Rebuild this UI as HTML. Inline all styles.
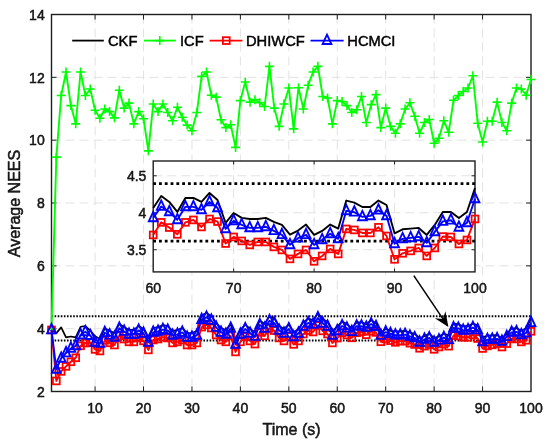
<!DOCTYPE html>
<html><head><meta charset="utf-8"><title>Average NEES</title>
<style>html,body{margin:0;padding:0;background:#fff}svg{display:block}</style></head>
<body><svg width="550" height="446" viewBox="0 0 550 446">
<rect x="0" y="0" width="550" height="446" fill="#fff"/>
<path d="M95.09 14.5V391.5M143.53 14.5V391.5M191.96 14.5V391.5M240.39 14.5V391.5M288.83 14.5V391.5M337.26 14.5V391.5M385.7 14.5V391.5M434.13 14.5V391.5M482.57 14.5V391.5M51.5 328.67H531M51.5 265.83H531M51.5 203H531M51.5 140.17H531M51.5 77.33H531" stroke="#e2e2e2" stroke-width="1" stroke-dasharray="9 5" fill="none"/>
<path d="M95.09 391.5v-5M95.09 14.5v5M143.53 391.5v-5M143.53 14.5v5M191.96 391.5v-5M191.96 14.5v5M240.39 391.5v-5M240.39 14.5v5M288.83 391.5v-5M288.83 14.5v5M337.26 391.5v-5M337.26 14.5v5M385.7 391.5v-5M385.7 14.5v5M434.13 391.5v-5M434.13 14.5v5M482.57 391.5v-5M482.57 14.5v5M51.5 328.67h5M531 328.67h-5M51.5 265.83h5M531 265.83h-5M51.5 203h5M531 203h-5M51.5 140.17h5M531 140.17h-5M51.5 77.33h5M531 77.33h-5" stroke="#1e1e1e" stroke-width="1" fill="none"/>
<rect x="51.5" y="14.5" width="479.5" height="377" fill="none" stroke="#1e1e1e" stroke-width="1.4"/>
<path d="M51.5 316.26H531" stroke="#000" stroke-width="2" stroke-dasharray="1.6 1.5" fill="none"/>
<path d="M51.5 340.6H531" stroke="#000" stroke-width="2" stroke-dasharray="1.6 1.5" fill="none"/>
<polyline fill="none" stroke="#000000" stroke-width="1.7" stroke-linejoin="round"  points="51.5,329.92 56.34,333.13 61.19,327.41 66.03,337.34 70.87,336.52 75.72,337.34 80.56,326.78 85.4,326.15 90.25,330.55 95.09,336.3 99.93,339.03 104.78,328.35 109.62,330.87 114.46,333.06 119.31,323.95 124.15,327.1 128.99,329.92 133.84,329.92 138.68,326 143.53,328.98 148.37,337.97 153.21,328.04 158.06,327.1 162.9,325.21 167.74,326 172.59,330.99 177.43,329.92 182.27,328.04 187.12,333.06 191.96,333.06 196.8,330.99 201.65,315.16 206.49,312.96 211.33,316.1 216.18,323.01 221.02,328.04 225.86,329.92 230.71,323.95 235.55,339.98 240.39,329.92 245.24,324.58 250.08,328.98 254.92,332.12 259.77,320.5 264.61,323.95 269.45,316.41 274.3,318.61 279.14,326 283.98,328.98 288.83,324.58 293.67,332.44 298.52,328.98 303.36,322.07 308.2,318.61 313.05,320.03 317.89,313.59 322.73,318.93 327.58,322.07 332.42,330.99 337.26,326.62 342.11,321.54 346.95,324.08 351.79,328.32 356.64,322.38 361.48,322.38 366.32,324.08 371.17,320.25 376.01,323.23 380.85,333 385.7,328.76 390.54,330.87 395.38,331.31 400.23,331.31 405.07,330.87 409.91,332.56 414.76,333.85 419.6,337.93 424.44,336.24 429.29,333.69 434.13,338.09 438.97,336.4 443.82,333.69 448.66,335.39 453.51,323.48 458.35,324.33 463.19,326.22 468.04,326.22 472.88,323.48 477.72,325.37 482.57,337.4 487.41,335.7 492.25,335.39 497.1,335.11 501.94,338.09 506.78,333.85 511.63,328.32 516.47,328.32 521.31,330.87 526.16,328.32 531,318.14"/>
<polyline fill="none" stroke="#00ff00" stroke-width="1.9" stroke-linejoin="round"  points="51.5,328.67 56.34,157.13 61.19,95.56 66.03,71.99 70.87,105.61 75.72,123.83 80.56,71.99 85.4,95.56 90.25,88.96 95.09,110.32 99.93,118.18 104.78,109.06 109.62,111.58 114.46,117.86 119.31,90.21 124.15,108.12 128.99,103.1 133.84,123.83 138.68,111.58 143.53,118.8 148.37,150.85 153.21,104.04 158.06,111.58 162.9,104.04 167.74,112.52 172.59,120.69 177.43,107.18 182.27,117.23 187.12,125.09 191.96,130.74 196.8,112.52 201.65,76.39 206.49,71.99 211.33,95.24 216.18,97.13 221.02,119.75 225.86,127.6 230.71,124.77 235.55,147.39 240.39,100.58 245.24,82.05 250.08,102.15 254.92,99.64 259.77,102.78 264.61,106.55 269.45,66.34 274.3,108.12 279.14,126.34 283.98,104.04 288.83,88.02 293.67,128.86 298.52,87.7 303.36,109.06 308.2,85.19 313.05,71.99 317.89,66.34 322.73,96.5 327.58,98.07 332.42,123.83 337.26,100.58 342.11,101.52 346.95,105.61 351.79,112.52 356.64,109.69 361.48,96.5 366.32,122.57 371.17,104.67 376.01,94.61 380.85,127.6 385.7,108.12 390.54,126.34 395.38,133.25 400.23,123.83 405.07,109.06 409.91,102.78 414.76,116.29 419.6,133.25 424.44,122.57 429.29,119.43 434.13,143.31 438.97,138.28 443.82,120.69 448.66,132.31 453.51,100.27 458.35,95.56 463.19,91.47 468.04,88.02 472.88,75.76 477.72,123.2 482.57,142.05 487.41,121.32 492.25,121.32 497.1,102.15 501.94,122.57 506.78,130.74 511.63,103.1 516.47,88.02 521.31,88.96 526.16,95.24 531,79.53"/>
<path d="M47 328.67H56M51.5 324.17V333.17" stroke="#00ff00" stroke-width="1.6" fill="none"/>
<path d="M51.84 157.13H60.84M56.34 152.63V161.63" stroke="#00ff00" stroke-width="1.6" fill="none"/>
<path d="M56.69 95.56H65.69M61.19 91.06V100.06" stroke="#00ff00" stroke-width="1.6" fill="none"/>
<path d="M61.53 71.99H70.53M66.03 67.49V76.49" stroke="#00ff00" stroke-width="1.6" fill="none"/>
<path d="M66.37 105.61H75.37M70.87 101.11V110.11" stroke="#00ff00" stroke-width="1.6" fill="none"/>
<path d="M71.22 123.83H80.22M75.72 119.33V128.33" stroke="#00ff00" stroke-width="1.6" fill="none"/>
<path d="M76.06 71.99H85.06M80.56 67.49V76.49" stroke="#00ff00" stroke-width="1.6" fill="none"/>
<path d="M80.9 95.56H89.9M85.4 91.06V100.06" stroke="#00ff00" stroke-width="1.6" fill="none"/>
<path d="M85.75 88.96H94.75M90.25 84.46V93.46" stroke="#00ff00" stroke-width="1.6" fill="none"/>
<path d="M90.59 110.32H99.59M95.09 105.82V114.82" stroke="#00ff00" stroke-width="1.6" fill="none"/>
<path d="M95.43 118.18H104.43M99.93 113.68V122.68" stroke="#00ff00" stroke-width="1.6" fill="none"/>
<path d="M100.28 109.06H109.28M104.78 104.56V113.56" stroke="#00ff00" stroke-width="1.6" fill="none"/>
<path d="M105.12 111.58H114.12M109.62 107.08V116.08" stroke="#00ff00" stroke-width="1.6" fill="none"/>
<path d="M109.96 117.86H118.96M114.46 113.36V122.36" stroke="#00ff00" stroke-width="1.6" fill="none"/>
<path d="M114.81 90.21H123.81M119.31 85.71V94.71" stroke="#00ff00" stroke-width="1.6" fill="none"/>
<path d="M119.65 108.12H128.65M124.15 103.62V112.62" stroke="#00ff00" stroke-width="1.6" fill="none"/>
<path d="M124.49 103.1H133.49M128.99 98.6V107.6" stroke="#00ff00" stroke-width="1.6" fill="none"/>
<path d="M129.34 123.83H138.34M133.84 119.33V128.33" stroke="#00ff00" stroke-width="1.6" fill="none"/>
<path d="M134.18 111.58H143.18M138.68 107.08V116.08" stroke="#00ff00" stroke-width="1.6" fill="none"/>
<path d="M139.03 118.8H148.03M143.53 114.3V123.3" stroke="#00ff00" stroke-width="1.6" fill="none"/>
<path d="M143.87 150.85H152.87M148.37 146.35V155.35" stroke="#00ff00" stroke-width="1.6" fill="none"/>
<path d="M148.71 104.04H157.71M153.21 99.54V108.54" stroke="#00ff00" stroke-width="1.6" fill="none"/>
<path d="M153.56 111.58H162.56M158.06 107.08V116.08" stroke="#00ff00" stroke-width="1.6" fill="none"/>
<path d="M158.4 104.04H167.4M162.9 99.54V108.54" stroke="#00ff00" stroke-width="1.6" fill="none"/>
<path d="M163.24 112.52H172.24M167.74 108.02V117.02" stroke="#00ff00" stroke-width="1.6" fill="none"/>
<path d="M168.09 120.69H177.09M172.59 116.19V125.19" stroke="#00ff00" stroke-width="1.6" fill="none"/>
<path d="M172.93 107.18H181.93M177.43 102.68V111.68" stroke="#00ff00" stroke-width="1.6" fill="none"/>
<path d="M177.77 117.23H186.77M182.27 112.73V121.73" stroke="#00ff00" stroke-width="1.6" fill="none"/>
<path d="M182.62 125.09H191.62M187.12 120.59V129.59" stroke="#00ff00" stroke-width="1.6" fill="none"/>
<path d="M187.46 130.74H196.46M191.96 126.24V135.24" stroke="#00ff00" stroke-width="1.6" fill="none"/>
<path d="M192.3 112.52H201.3M196.8 108.02V117.02" stroke="#00ff00" stroke-width="1.6" fill="none"/>
<path d="M197.15 76.39H206.15M201.65 71.89V80.89" stroke="#00ff00" stroke-width="1.6" fill="none"/>
<path d="M201.99 71.99H210.99M206.49 67.49V76.49" stroke="#00ff00" stroke-width="1.6" fill="none"/>
<path d="M206.83 95.24H215.83M211.33 90.74V99.74" stroke="#00ff00" stroke-width="1.6" fill="none"/>
<path d="M211.68 97.13H220.68M216.18 92.63V101.63" stroke="#00ff00" stroke-width="1.6" fill="none"/>
<path d="M216.52 119.75H225.52M221.02 115.25V124.25" stroke="#00ff00" stroke-width="1.6" fill="none"/>
<path d="M221.36 127.6H230.36M225.86 123.1V132.1" stroke="#00ff00" stroke-width="1.6" fill="none"/>
<path d="M226.21 124.77H235.21M230.71 120.27V129.27" stroke="#00ff00" stroke-width="1.6" fill="none"/>
<path d="M231.05 147.39H240.05M235.55 142.89V151.89" stroke="#00ff00" stroke-width="1.6" fill="none"/>
<path d="M235.89 100.58H244.89M240.39 96.08V105.08" stroke="#00ff00" stroke-width="1.6" fill="none"/>
<path d="M240.74 82.05H249.74M245.24 77.55V86.55" stroke="#00ff00" stroke-width="1.6" fill="none"/>
<path d="M245.58 102.15H254.58M250.08 97.65V106.65" stroke="#00ff00" stroke-width="1.6" fill="none"/>
<path d="M250.42 99.64H259.42M254.92 95.14V104.14" stroke="#00ff00" stroke-width="1.6" fill="none"/>
<path d="M255.27 102.78H264.27M259.77 98.28V107.28" stroke="#00ff00" stroke-width="1.6" fill="none"/>
<path d="M260.11 106.55H269.11M264.61 102.05V111.05" stroke="#00ff00" stroke-width="1.6" fill="none"/>
<path d="M264.95 66.34H273.95M269.45 61.84V70.84" stroke="#00ff00" stroke-width="1.6" fill="none"/>
<path d="M269.8 108.12H278.8M274.3 103.62V112.62" stroke="#00ff00" stroke-width="1.6" fill="none"/>
<path d="M274.64 126.34H283.64M279.14 121.84V130.84" stroke="#00ff00" stroke-width="1.6" fill="none"/>
<path d="M279.48 104.04H288.48M283.98 99.54V108.54" stroke="#00ff00" stroke-width="1.6" fill="none"/>
<path d="M284.33 88.02H293.33M288.83 83.52V92.52" stroke="#00ff00" stroke-width="1.6" fill="none"/>
<path d="M289.17 128.86H298.17M293.67 124.36V133.36" stroke="#00ff00" stroke-width="1.6" fill="none"/>
<path d="M294.02 87.7H303.02M298.52 83.2V92.2" stroke="#00ff00" stroke-width="1.6" fill="none"/>
<path d="M298.86 109.06H307.86M303.36 104.56V113.56" stroke="#00ff00" stroke-width="1.6" fill="none"/>
<path d="M303.7 85.19H312.7M308.2 80.69V89.69" stroke="#00ff00" stroke-width="1.6" fill="none"/>
<path d="M308.55 71.99H317.55M313.05 67.49V76.49" stroke="#00ff00" stroke-width="1.6" fill="none"/>
<path d="M313.39 66.34H322.39M317.89 61.84V70.84" stroke="#00ff00" stroke-width="1.6" fill="none"/>
<path d="M318.23 96.5H327.23M322.73 92V101" stroke="#00ff00" stroke-width="1.6" fill="none"/>
<path d="M323.08 98.07H332.08M327.58 93.57V102.57" stroke="#00ff00" stroke-width="1.6" fill="none"/>
<path d="M327.92 123.83H336.92M332.42 119.33V128.33" stroke="#00ff00" stroke-width="1.6" fill="none"/>
<path d="M332.76 100.58H341.76M337.26 96.08V105.08" stroke="#00ff00" stroke-width="1.6" fill="none"/>
<path d="M337.61 101.52H346.61M342.11 97.02V106.02" stroke="#00ff00" stroke-width="1.6" fill="none"/>
<path d="M342.45 105.61H351.45M346.95 101.11V110.11" stroke="#00ff00" stroke-width="1.6" fill="none"/>
<path d="M347.29 112.52H356.29M351.79 108.02V117.02" stroke="#00ff00" stroke-width="1.6" fill="none"/>
<path d="M352.14 109.69H361.14M356.64 105.19V114.19" stroke="#00ff00" stroke-width="1.6" fill="none"/>
<path d="M356.98 96.5H365.98M361.48 92V101" stroke="#00ff00" stroke-width="1.6" fill="none"/>
<path d="M361.82 122.57H370.82M366.32 118.07V127.07" stroke="#00ff00" stroke-width="1.6" fill="none"/>
<path d="M366.67 104.67H375.67M371.17 100.17V109.17" stroke="#00ff00" stroke-width="1.6" fill="none"/>
<path d="M371.51 94.61H380.51M376.01 90.11V99.11" stroke="#00ff00" stroke-width="1.6" fill="none"/>
<path d="M376.35 127.6H385.35M380.85 123.1V132.1" stroke="#00ff00" stroke-width="1.6" fill="none"/>
<path d="M381.2 108.12H390.2M385.7 103.62V112.62" stroke="#00ff00" stroke-width="1.6" fill="none"/>
<path d="M386.04 126.34H395.04M390.54 121.84V130.84" stroke="#00ff00" stroke-width="1.6" fill="none"/>
<path d="M390.88 133.25H399.88M395.38 128.75V137.75" stroke="#00ff00" stroke-width="1.6" fill="none"/>
<path d="M395.73 123.83H404.73M400.23 119.33V128.33" stroke="#00ff00" stroke-width="1.6" fill="none"/>
<path d="M400.57 109.06H409.57M405.07 104.56V113.56" stroke="#00ff00" stroke-width="1.6" fill="none"/>
<path d="M405.41 102.78H414.41M409.91 98.28V107.28" stroke="#00ff00" stroke-width="1.6" fill="none"/>
<path d="M410.26 116.29H419.26M414.76 111.79V120.79" stroke="#00ff00" stroke-width="1.6" fill="none"/>
<path d="M415.1 133.25H424.1M419.6 128.75V137.75" stroke="#00ff00" stroke-width="1.6" fill="none"/>
<path d="M419.94 122.57H428.94M424.44 118.07V127.07" stroke="#00ff00" stroke-width="1.6" fill="none"/>
<path d="M424.79 119.43H433.79M429.29 114.93V123.93" stroke="#00ff00" stroke-width="1.6" fill="none"/>
<path d="M429.63 143.31H438.63M434.13 138.81V147.81" stroke="#00ff00" stroke-width="1.6" fill="none"/>
<path d="M434.47 138.28H443.47M438.97 133.78V142.78" stroke="#00ff00" stroke-width="1.6" fill="none"/>
<path d="M439.32 120.69H448.32M443.82 116.19V125.19" stroke="#00ff00" stroke-width="1.6" fill="none"/>
<path d="M444.16 132.31H453.16M448.66 127.81V136.81" stroke="#00ff00" stroke-width="1.6" fill="none"/>
<path d="M449.01 100.27H458.01M453.51 95.77V104.77" stroke="#00ff00" stroke-width="1.6" fill="none"/>
<path d="M453.85 95.56H462.85M458.35 91.06V100.06" stroke="#00ff00" stroke-width="1.6" fill="none"/>
<path d="M458.69 91.47H467.69M463.19 86.97V95.97" stroke="#00ff00" stroke-width="1.6" fill="none"/>
<path d="M463.54 88.02H472.54M468.04 83.52V92.52" stroke="#00ff00" stroke-width="1.6" fill="none"/>
<path d="M468.38 75.76H477.38M472.88 71.26V80.26" stroke="#00ff00" stroke-width="1.6" fill="none"/>
<path d="M473.22 123.2H482.22M477.72 118.7V127.7" stroke="#00ff00" stroke-width="1.6" fill="none"/>
<path d="M478.07 142.05H487.07M482.57 137.55V146.55" stroke="#00ff00" stroke-width="1.6" fill="none"/>
<path d="M482.91 121.32H491.91M487.41 116.82V125.82" stroke="#00ff00" stroke-width="1.6" fill="none"/>
<path d="M487.75 121.32H496.75M492.25 116.82V125.82" stroke="#00ff00" stroke-width="1.6" fill="none"/>
<path d="M492.6 102.15H501.6M497.1 97.65V106.65" stroke="#00ff00" stroke-width="1.6" fill="none"/>
<path d="M497.44 122.57H506.44M501.94 118.07V127.07" stroke="#00ff00" stroke-width="1.6" fill="none"/>
<path d="M502.28 130.74H511.28M506.78 126.24V135.24" stroke="#00ff00" stroke-width="1.6" fill="none"/>
<path d="M507.13 103.1H516.13M511.63 98.6V107.6" stroke="#00ff00" stroke-width="1.6" fill="none"/>
<path d="M511.97 88.02H520.97M516.47 83.52V92.52" stroke="#00ff00" stroke-width="1.6" fill="none"/>
<path d="M516.81 88.96H525.81M521.31 84.46V93.46" stroke="#00ff00" stroke-width="1.6" fill="none"/>
<path d="M521.66 95.24H530.66M526.16 90.74V99.74" stroke="#00ff00" stroke-width="1.6" fill="none"/>
<path d="M526.5 79.53H535.5M531 75.03V84.03" stroke="#00ff00" stroke-width="1.6" fill="none"/>
<polyline fill="none" stroke="#ff0000" stroke-width="1.9" stroke-linejoin="round"  points="51.5,329.92 56.34,380.94 61.19,371.39 66.03,366.37 70.87,361.78 75.72,357.79 80.56,345.82 85.4,343.02 90.25,342.49 95.09,349.4 99.93,350.97 104.78,340.29 109.62,342.8 114.46,345 119.31,335.89 124.15,339.03 128.99,341.86 133.84,341.86 138.68,337.93 143.53,340.92 148.37,349.9 153.21,339.98 158.06,339.03 162.9,337.15 167.74,337.93 172.59,342.93 177.43,341.86 182.27,339.98 187.12,345 191.96,345 196.8,342.93 201.65,327.1 206.49,324.9 211.33,328.04 216.18,334.95 221.02,339.98 225.86,341.86 230.71,335.89 235.55,351.92 240.39,341.86 245.24,336.52 250.08,340.92 254.92,344.06 259.77,332.44 264.61,335.89 269.45,328.35 274.3,330.55 279.14,337.93 283.98,340.92 288.83,336.52 293.67,344.38 298.52,340.92 303.36,334.01 308.2,330.55 313.05,331.97 317.89,325.53 322.73,330.87 327.58,334.01 332.42,342.93 337.26,338.09 342.11,332.75 346.95,334.95 351.79,337.84 356.64,332.75 361.48,331.71 366.32,334.7 371.17,331.31 376.01,332.41 380.85,341.74 385.7,338.94 390.54,340.64 395.38,342.33 400.23,341.08 405.07,341.08 409.91,343.18 414.76,344.47 419.6,348.27 424.44,346.17 429.29,344.47 434.13,349.31 438.97,347.01 443.82,344.03 448.66,346.17 453.51,335.55 458.35,335.96 463.19,337.24 468.04,337.24 472.88,334.86 477.72,338.53 482.57,348.46 487.41,345.91 492.25,344.88 497.1,343.62 501.94,347.01 506.78,343.62 511.63,338.78 516.47,338.94 521.31,341.92 526.16,340.23 531,331.31"/>
<rect x="48.1" y="326.52" width="6.8" height="6.8" stroke="#ff0000" stroke-width="1.8" fill="none"/>
<rect x="52.94" y="377.54" width="6.8" height="6.8" stroke="#ff0000" stroke-width="1.8" fill="none"/>
<rect x="57.79" y="367.99" width="6.8" height="6.8" stroke="#ff0000" stroke-width="1.8" fill="none"/>
<rect x="62.63" y="362.97" width="6.8" height="6.8" stroke="#ff0000" stroke-width="1.8" fill="none"/>
<rect x="67.47" y="358.38" width="6.8" height="6.8" stroke="#ff0000" stroke-width="1.8" fill="none"/>
<rect x="72.32" y="354.39" width="6.8" height="6.8" stroke="#ff0000" stroke-width="1.8" fill="none"/>
<rect x="77.16" y="342.42" width="6.8" height="6.8" stroke="#ff0000" stroke-width="1.8" fill="none"/>
<rect x="82" y="339.62" width="6.8" height="6.8" stroke="#ff0000" stroke-width="1.8" fill="none"/>
<rect x="86.85" y="339.09" width="6.8" height="6.8" stroke="#ff0000" stroke-width="1.8" fill="none"/>
<rect x="91.69" y="346" width="6.8" height="6.8" stroke="#ff0000" stroke-width="1.8" fill="none"/>
<rect x="96.53" y="347.57" width="6.8" height="6.8" stroke="#ff0000" stroke-width="1.8" fill="none"/>
<rect x="101.38" y="336.89" width="6.8" height="6.8" stroke="#ff0000" stroke-width="1.8" fill="none"/>
<rect x="106.22" y="339.4" width="6.8" height="6.8" stroke="#ff0000" stroke-width="1.8" fill="none"/>
<rect x="111.06" y="341.6" width="6.8" height="6.8" stroke="#ff0000" stroke-width="1.8" fill="none"/>
<rect x="115.91" y="332.49" width="6.8" height="6.8" stroke="#ff0000" stroke-width="1.8" fill="none"/>
<rect x="120.75" y="335.63" width="6.8" height="6.8" stroke="#ff0000" stroke-width="1.8" fill="none"/>
<rect x="125.59" y="338.46" width="6.8" height="6.8" stroke="#ff0000" stroke-width="1.8" fill="none"/>
<rect x="130.44" y="338.46" width="6.8" height="6.8" stroke="#ff0000" stroke-width="1.8" fill="none"/>
<rect x="135.28" y="334.53" width="6.8" height="6.8" stroke="#ff0000" stroke-width="1.8" fill="none"/>
<rect x="140.13" y="337.52" width="6.8" height="6.8" stroke="#ff0000" stroke-width="1.8" fill="none"/>
<rect x="144.97" y="346.5" width="6.8" height="6.8" stroke="#ff0000" stroke-width="1.8" fill="none"/>
<rect x="149.81" y="336.58" width="6.8" height="6.8" stroke="#ff0000" stroke-width="1.8" fill="none"/>
<rect x="154.66" y="335.63" width="6.8" height="6.8" stroke="#ff0000" stroke-width="1.8" fill="none"/>
<rect x="159.5" y="333.75" width="6.8" height="6.8" stroke="#ff0000" stroke-width="1.8" fill="none"/>
<rect x="164.34" y="334.53" width="6.8" height="6.8" stroke="#ff0000" stroke-width="1.8" fill="none"/>
<rect x="169.19" y="339.53" width="6.8" height="6.8" stroke="#ff0000" stroke-width="1.8" fill="none"/>
<rect x="174.03" y="338.46" width="6.8" height="6.8" stroke="#ff0000" stroke-width="1.8" fill="none"/>
<rect x="178.87" y="336.58" width="6.8" height="6.8" stroke="#ff0000" stroke-width="1.8" fill="none"/>
<rect x="183.72" y="341.6" width="6.8" height="6.8" stroke="#ff0000" stroke-width="1.8" fill="none"/>
<rect x="188.56" y="341.6" width="6.8" height="6.8" stroke="#ff0000" stroke-width="1.8" fill="none"/>
<rect x="193.4" y="339.53" width="6.8" height="6.8" stroke="#ff0000" stroke-width="1.8" fill="none"/>
<rect x="198.25" y="323.7" width="6.8" height="6.8" stroke="#ff0000" stroke-width="1.8" fill="none"/>
<rect x="203.09" y="321.5" width="6.8" height="6.8" stroke="#ff0000" stroke-width="1.8" fill="none"/>
<rect x="207.93" y="324.64" width="6.8" height="6.8" stroke="#ff0000" stroke-width="1.8" fill="none"/>
<rect x="212.78" y="331.55" width="6.8" height="6.8" stroke="#ff0000" stroke-width="1.8" fill="none"/>
<rect x="217.62" y="336.58" width="6.8" height="6.8" stroke="#ff0000" stroke-width="1.8" fill="none"/>
<rect x="222.46" y="338.46" width="6.8" height="6.8" stroke="#ff0000" stroke-width="1.8" fill="none"/>
<rect x="227.31" y="332.49" width="6.8" height="6.8" stroke="#ff0000" stroke-width="1.8" fill="none"/>
<rect x="232.15" y="348.52" width="6.8" height="6.8" stroke="#ff0000" stroke-width="1.8" fill="none"/>
<rect x="236.99" y="338.46" width="6.8" height="6.8" stroke="#ff0000" stroke-width="1.8" fill="none"/>
<rect x="241.84" y="333.12" width="6.8" height="6.8" stroke="#ff0000" stroke-width="1.8" fill="none"/>
<rect x="246.68" y="337.52" width="6.8" height="6.8" stroke="#ff0000" stroke-width="1.8" fill="none"/>
<rect x="251.52" y="340.66" width="6.8" height="6.8" stroke="#ff0000" stroke-width="1.8" fill="none"/>
<rect x="256.37" y="329.04" width="6.8" height="6.8" stroke="#ff0000" stroke-width="1.8" fill="none"/>
<rect x="261.21" y="332.49" width="6.8" height="6.8" stroke="#ff0000" stroke-width="1.8" fill="none"/>
<rect x="266.05" y="324.95" width="6.8" height="6.8" stroke="#ff0000" stroke-width="1.8" fill="none"/>
<rect x="270.9" y="327.15" width="6.8" height="6.8" stroke="#ff0000" stroke-width="1.8" fill="none"/>
<rect x="275.74" y="334.53" width="6.8" height="6.8" stroke="#ff0000" stroke-width="1.8" fill="none"/>
<rect x="280.58" y="337.52" width="6.8" height="6.8" stroke="#ff0000" stroke-width="1.8" fill="none"/>
<rect x="285.43" y="333.12" width="6.8" height="6.8" stroke="#ff0000" stroke-width="1.8" fill="none"/>
<rect x="290.27" y="340.98" width="6.8" height="6.8" stroke="#ff0000" stroke-width="1.8" fill="none"/>
<rect x="295.12" y="337.52" width="6.8" height="6.8" stroke="#ff0000" stroke-width="1.8" fill="none"/>
<rect x="299.96" y="330.61" width="6.8" height="6.8" stroke="#ff0000" stroke-width="1.8" fill="none"/>
<rect x="304.8" y="327.15" width="6.8" height="6.8" stroke="#ff0000" stroke-width="1.8" fill="none"/>
<rect x="309.65" y="328.57" width="6.8" height="6.8" stroke="#ff0000" stroke-width="1.8" fill="none"/>
<rect x="314.49" y="322.13" width="6.8" height="6.8" stroke="#ff0000" stroke-width="1.8" fill="none"/>
<rect x="319.33" y="327.47" width="6.8" height="6.8" stroke="#ff0000" stroke-width="1.8" fill="none"/>
<rect x="324.18" y="330.61" width="6.8" height="6.8" stroke="#ff0000" stroke-width="1.8" fill="none"/>
<rect x="329.02" y="339.53" width="6.8" height="6.8" stroke="#ff0000" stroke-width="1.8" fill="none"/>
<rect x="333.86" y="334.69" width="6.8" height="6.8" stroke="#ff0000" stroke-width="1.8" fill="none"/>
<rect x="338.71" y="329.35" width="6.8" height="6.8" stroke="#ff0000" stroke-width="1.8" fill="none"/>
<rect x="343.55" y="331.55" width="6.8" height="6.8" stroke="#ff0000" stroke-width="1.8" fill="none"/>
<rect x="348.39" y="334.44" width="6.8" height="6.8" stroke="#ff0000" stroke-width="1.8" fill="none"/>
<rect x="353.24" y="329.35" width="6.8" height="6.8" stroke="#ff0000" stroke-width="1.8" fill="none"/>
<rect x="358.08" y="328.31" width="6.8" height="6.8" stroke="#ff0000" stroke-width="1.8" fill="none"/>
<rect x="362.92" y="331.3" width="6.8" height="6.8" stroke="#ff0000" stroke-width="1.8" fill="none"/>
<rect x="367.77" y="327.91" width="6.8" height="6.8" stroke="#ff0000" stroke-width="1.8" fill="none"/>
<rect x="372.61" y="329.01" width="6.8" height="6.8" stroke="#ff0000" stroke-width="1.8" fill="none"/>
<rect x="377.45" y="338.34" width="6.8" height="6.8" stroke="#ff0000" stroke-width="1.8" fill="none"/>
<rect x="382.3" y="335.54" width="6.8" height="6.8" stroke="#ff0000" stroke-width="1.8" fill="none"/>
<rect x="387.14" y="337.24" width="6.8" height="6.8" stroke="#ff0000" stroke-width="1.8" fill="none"/>
<rect x="391.98" y="338.93" width="6.8" height="6.8" stroke="#ff0000" stroke-width="1.8" fill="none"/>
<rect x="396.83" y="337.68" width="6.8" height="6.8" stroke="#ff0000" stroke-width="1.8" fill="none"/>
<rect x="401.67" y="337.68" width="6.8" height="6.8" stroke="#ff0000" stroke-width="1.8" fill="none"/>
<rect x="406.51" y="339.78" width="6.8" height="6.8" stroke="#ff0000" stroke-width="1.8" fill="none"/>
<rect x="411.36" y="341.07" width="6.8" height="6.8" stroke="#ff0000" stroke-width="1.8" fill="none"/>
<rect x="416.2" y="344.87" width="6.8" height="6.8" stroke="#ff0000" stroke-width="1.8" fill="none"/>
<rect x="421.04" y="342.77" width="6.8" height="6.8" stroke="#ff0000" stroke-width="1.8" fill="none"/>
<rect x="425.89" y="341.07" width="6.8" height="6.8" stroke="#ff0000" stroke-width="1.8" fill="none"/>
<rect x="430.73" y="345.91" width="6.8" height="6.8" stroke="#ff0000" stroke-width="1.8" fill="none"/>
<rect x="435.57" y="343.61" width="6.8" height="6.8" stroke="#ff0000" stroke-width="1.8" fill="none"/>
<rect x="440.42" y="340.63" width="6.8" height="6.8" stroke="#ff0000" stroke-width="1.8" fill="none"/>
<rect x="445.26" y="342.77" width="6.8" height="6.8" stroke="#ff0000" stroke-width="1.8" fill="none"/>
<rect x="450.11" y="332.15" width="6.8" height="6.8" stroke="#ff0000" stroke-width="1.8" fill="none"/>
<rect x="454.95" y="332.56" width="6.8" height="6.8" stroke="#ff0000" stroke-width="1.8" fill="none"/>
<rect x="459.79" y="333.84" width="6.8" height="6.8" stroke="#ff0000" stroke-width="1.8" fill="none"/>
<rect x="464.64" y="333.84" width="6.8" height="6.8" stroke="#ff0000" stroke-width="1.8" fill="none"/>
<rect x="469.48" y="331.46" width="6.8" height="6.8" stroke="#ff0000" stroke-width="1.8" fill="none"/>
<rect x="474.32" y="335.13" width="6.8" height="6.8" stroke="#ff0000" stroke-width="1.8" fill="none"/>
<rect x="479.17" y="345.06" width="6.8" height="6.8" stroke="#ff0000" stroke-width="1.8" fill="none"/>
<rect x="484.01" y="342.51" width="6.8" height="6.8" stroke="#ff0000" stroke-width="1.8" fill="none"/>
<rect x="488.85" y="341.48" width="6.8" height="6.8" stroke="#ff0000" stroke-width="1.8" fill="none"/>
<rect x="493.7" y="340.22" width="6.8" height="6.8" stroke="#ff0000" stroke-width="1.8" fill="none"/>
<rect x="498.54" y="343.61" width="6.8" height="6.8" stroke="#ff0000" stroke-width="1.8" fill="none"/>
<rect x="503.38" y="340.22" width="6.8" height="6.8" stroke="#ff0000" stroke-width="1.8" fill="none"/>
<rect x="508.23" y="335.38" width="6.8" height="6.8" stroke="#ff0000" stroke-width="1.8" fill="none"/>
<rect x="513.07" y="335.54" width="6.8" height="6.8" stroke="#ff0000" stroke-width="1.8" fill="none"/>
<rect x="517.91" y="338.52" width="6.8" height="6.8" stroke="#ff0000" stroke-width="1.8" fill="none"/>
<rect x="522.76" y="336.83" width="6.8" height="6.8" stroke="#ff0000" stroke-width="1.8" fill="none"/>
<rect x="527.6" y="327.91" width="6.8" height="6.8" stroke="#ff0000" stroke-width="1.8" fill="none"/>
<polyline fill="none" stroke="#0000ff" stroke-width="1.9" stroke-linejoin="round"  points="51.5,329.92 56.34,369.35 61.19,358.39 66.03,353.01 70.87,348.46 75.72,345.82 80.56,334.95 85.4,331.81 90.25,335.58 95.09,342.33 99.93,343.43 104.78,332.75 109.62,335.26 114.46,337.46 119.31,328.35 124.15,331.49 128.99,334.32 133.84,334.32 138.68,330.39 143.53,333.38 148.37,342.36 153.21,332.44 158.06,331.49 162.9,329.61 167.74,330.39 172.59,335.39 177.43,334.32 182.27,332.44 187.12,337.46 191.96,337.46 196.8,335.39 201.65,319.56 206.49,317.36 211.33,320.5 216.18,327.41 221.02,332.44 225.86,334.32 230.71,328.35 235.55,344.38 240.39,334.32 245.24,328.98 250.08,333.38 254.92,336.52 259.77,324.9 264.61,328.35 269.45,320.81 274.3,323.01 279.14,330.39 283.98,333.38 288.83,328.98 293.67,336.83 298.52,333.38 303.36,326.47 308.2,323.01 313.05,324.43 317.89,317.99 322.73,323.33 327.58,326.47 332.42,335.39 337.26,330.83 342.11,326 346.95,328.29 351.79,331.68 356.64,326.15 361.48,326.15 366.32,327.44 371.17,324.05 376.01,326.59 380.85,335.48 385.7,332.09 390.54,333.79 395.38,335.08 400.23,335.08 405.07,334.64 409.91,336.33 414.76,338.03 419.6,342.3 424.44,339.47 429.29,338.03 434.13,342.3 438.97,340.17 443.82,337.62 448.66,339.76 453.51,327.85 458.35,328.45 463.19,330.39 468.04,329.99 472.88,327.6 477.72,329.99 482.57,341.86 487.41,339.76 492.25,339.32 497.1,338.91 501.94,341.45 506.78,336.77 511.63,332.34 516.47,331.84 521.31,334.89 526.16,332.94 531,322.76"/>
<path d="M51.5 323.92L55.9 333.32L47.1 333.32Z" stroke="#0000ff" stroke-width="1.85" fill="none" stroke-linejoin="miter"/>
<path d="M56.34 363.35L60.74 372.75L51.94 372.75Z" stroke="#0000ff" stroke-width="1.85" fill="none" stroke-linejoin="miter"/>
<path d="M61.19 352.39L65.59 361.79L56.79 361.79Z" stroke="#0000ff" stroke-width="1.85" fill="none" stroke-linejoin="miter"/>
<path d="M66.03 347.01L70.43 356.41L61.63 356.41Z" stroke="#0000ff" stroke-width="1.85" fill="none" stroke-linejoin="miter"/>
<path d="M70.87 342.46L75.27 351.86L66.47 351.86Z" stroke="#0000ff" stroke-width="1.85" fill="none" stroke-linejoin="miter"/>
<path d="M75.72 339.82L80.12 349.22L71.32 349.22Z" stroke="#0000ff" stroke-width="1.85" fill="none" stroke-linejoin="miter"/>
<path d="M80.56 328.95L84.96 338.35L76.16 338.35Z" stroke="#0000ff" stroke-width="1.85" fill="none" stroke-linejoin="miter"/>
<path d="M85.4 325.81L89.8 335.21L81 335.21Z" stroke="#0000ff" stroke-width="1.85" fill="none" stroke-linejoin="miter"/>
<path d="M90.25 329.58L94.65 338.98L85.85 338.98Z" stroke="#0000ff" stroke-width="1.85" fill="none" stroke-linejoin="miter"/>
<path d="M95.09 336.33L99.49 345.73L90.69 345.73Z" stroke="#0000ff" stroke-width="1.85" fill="none" stroke-linejoin="miter"/>
<path d="M99.93 337.43L104.33 346.83L95.53 346.83Z" stroke="#0000ff" stroke-width="1.85" fill="none" stroke-linejoin="miter"/>
<path d="M104.78 326.75L109.18 336.15L100.38 336.15Z" stroke="#0000ff" stroke-width="1.85" fill="none" stroke-linejoin="miter"/>
<path d="M109.62 329.26L114.02 338.66L105.22 338.66Z" stroke="#0000ff" stroke-width="1.85" fill="none" stroke-linejoin="miter"/>
<path d="M114.46 331.46L118.86 340.86L110.06 340.86Z" stroke="#0000ff" stroke-width="1.85" fill="none" stroke-linejoin="miter"/>
<path d="M119.31 322.35L123.71 331.75L114.91 331.75Z" stroke="#0000ff" stroke-width="1.85" fill="none" stroke-linejoin="miter"/>
<path d="M124.15 325.49L128.55 334.89L119.75 334.89Z" stroke="#0000ff" stroke-width="1.85" fill="none" stroke-linejoin="miter"/>
<path d="M128.99 328.32L133.39 337.72L124.59 337.72Z" stroke="#0000ff" stroke-width="1.85" fill="none" stroke-linejoin="miter"/>
<path d="M133.84 328.32L138.24 337.72L129.44 337.72Z" stroke="#0000ff" stroke-width="1.85" fill="none" stroke-linejoin="miter"/>
<path d="M138.68 324.39L143.08 333.79L134.28 333.79Z" stroke="#0000ff" stroke-width="1.85" fill="none" stroke-linejoin="miter"/>
<path d="M143.53 327.38L147.93 336.78L139.13 336.78Z" stroke="#0000ff" stroke-width="1.85" fill="none" stroke-linejoin="miter"/>
<path d="M148.37 336.36L152.77 345.76L143.97 345.76Z" stroke="#0000ff" stroke-width="1.85" fill="none" stroke-linejoin="miter"/>
<path d="M153.21 326.44L157.61 335.84L148.81 335.84Z" stroke="#0000ff" stroke-width="1.85" fill="none" stroke-linejoin="miter"/>
<path d="M158.06 325.49L162.46 334.89L153.66 334.89Z" stroke="#0000ff" stroke-width="1.85" fill="none" stroke-linejoin="miter"/>
<path d="M162.9 323.61L167.3 333.01L158.5 333.01Z" stroke="#0000ff" stroke-width="1.85" fill="none" stroke-linejoin="miter"/>
<path d="M167.74 324.39L172.14 333.79L163.34 333.79Z" stroke="#0000ff" stroke-width="1.85" fill="none" stroke-linejoin="miter"/>
<path d="M172.59 329.39L176.99 338.79L168.19 338.79Z" stroke="#0000ff" stroke-width="1.85" fill="none" stroke-linejoin="miter"/>
<path d="M177.43 328.32L181.83 337.72L173.03 337.72Z" stroke="#0000ff" stroke-width="1.85" fill="none" stroke-linejoin="miter"/>
<path d="M182.27 326.44L186.67 335.84L177.87 335.84Z" stroke="#0000ff" stroke-width="1.85" fill="none" stroke-linejoin="miter"/>
<path d="M187.12 331.46L191.52 340.86L182.72 340.86Z" stroke="#0000ff" stroke-width="1.85" fill="none" stroke-linejoin="miter"/>
<path d="M191.96 331.46L196.36 340.86L187.56 340.86Z" stroke="#0000ff" stroke-width="1.85" fill="none" stroke-linejoin="miter"/>
<path d="M196.8 329.39L201.2 338.79L192.4 338.79Z" stroke="#0000ff" stroke-width="1.85" fill="none" stroke-linejoin="miter"/>
<path d="M201.65 313.56L206.05 322.96L197.25 322.96Z" stroke="#0000ff" stroke-width="1.85" fill="none" stroke-linejoin="miter"/>
<path d="M206.49 311.36L210.89 320.76L202.09 320.76Z" stroke="#0000ff" stroke-width="1.85" fill="none" stroke-linejoin="miter"/>
<path d="M211.33 314.5L215.73 323.9L206.93 323.9Z" stroke="#0000ff" stroke-width="1.85" fill="none" stroke-linejoin="miter"/>
<path d="M216.18 321.41L220.58 330.81L211.78 330.81Z" stroke="#0000ff" stroke-width="1.85" fill="none" stroke-linejoin="miter"/>
<path d="M221.02 326.44L225.42 335.84L216.62 335.84Z" stroke="#0000ff" stroke-width="1.85" fill="none" stroke-linejoin="miter"/>
<path d="M225.86 328.32L230.26 337.72L221.46 337.72Z" stroke="#0000ff" stroke-width="1.85" fill="none" stroke-linejoin="miter"/>
<path d="M230.71 322.35L235.11 331.75L226.31 331.75Z" stroke="#0000ff" stroke-width="1.85" fill="none" stroke-linejoin="miter"/>
<path d="M235.55 338.38L239.95 347.77L231.15 347.77Z" stroke="#0000ff" stroke-width="1.85" fill="none" stroke-linejoin="miter"/>
<path d="M240.39 328.32L244.79 337.72L235.99 337.72Z" stroke="#0000ff" stroke-width="1.85" fill="none" stroke-linejoin="miter"/>
<path d="M245.24 322.98L249.64 332.38L240.84 332.38Z" stroke="#0000ff" stroke-width="1.85" fill="none" stroke-linejoin="miter"/>
<path d="M250.08 327.38L254.48 336.78L245.68 336.78Z" stroke="#0000ff" stroke-width="1.85" fill="none" stroke-linejoin="miter"/>
<path d="M254.92 330.52L259.32 339.92L250.52 339.92Z" stroke="#0000ff" stroke-width="1.85" fill="none" stroke-linejoin="miter"/>
<path d="M259.77 318.9L264.17 328.3L255.37 328.3Z" stroke="#0000ff" stroke-width="1.85" fill="none" stroke-linejoin="miter"/>
<path d="M264.61 322.35L269.01 331.75L260.21 331.75Z" stroke="#0000ff" stroke-width="1.85" fill="none" stroke-linejoin="miter"/>
<path d="M269.45 314.81L273.85 324.21L265.05 324.21Z" stroke="#0000ff" stroke-width="1.85" fill="none" stroke-linejoin="miter"/>
<path d="M274.3 317.01L278.7 326.41L269.9 326.41Z" stroke="#0000ff" stroke-width="1.85" fill="none" stroke-linejoin="miter"/>
<path d="M279.14 324.39L283.54 333.79L274.74 333.79Z" stroke="#0000ff" stroke-width="1.85" fill="none" stroke-linejoin="miter"/>
<path d="M283.98 327.38L288.38 336.78L279.58 336.78Z" stroke="#0000ff" stroke-width="1.85" fill="none" stroke-linejoin="miter"/>
<path d="M288.83 322.98L293.23 332.38L284.43 332.38Z" stroke="#0000ff" stroke-width="1.85" fill="none" stroke-linejoin="miter"/>
<path d="M293.67 330.83L298.07 340.23L289.27 340.23Z" stroke="#0000ff" stroke-width="1.85" fill="none" stroke-linejoin="miter"/>
<path d="M298.52 327.38L302.92 336.78L294.12 336.78Z" stroke="#0000ff" stroke-width="1.85" fill="none" stroke-linejoin="miter"/>
<path d="M303.36 320.47L307.76 329.87L298.96 329.87Z" stroke="#0000ff" stroke-width="1.85" fill="none" stroke-linejoin="miter"/>
<path d="M308.2 317.01L312.6 326.41L303.8 326.41Z" stroke="#0000ff" stroke-width="1.85" fill="none" stroke-linejoin="miter"/>
<path d="M313.05 318.43L317.45 327.83L308.65 327.83Z" stroke="#0000ff" stroke-width="1.85" fill="none" stroke-linejoin="miter"/>
<path d="M317.89 311.99L322.29 321.38L313.49 321.38Z" stroke="#0000ff" stroke-width="1.85" fill="none" stroke-linejoin="miter"/>
<path d="M322.73 317.33L327.13 326.73L318.33 326.73Z" stroke="#0000ff" stroke-width="1.85" fill="none" stroke-linejoin="miter"/>
<path d="M327.58 320.47L331.98 329.87L323.18 329.87Z" stroke="#0000ff" stroke-width="1.85" fill="none" stroke-linejoin="miter"/>
<path d="M332.42 329.39L336.82 338.79L328.02 338.79Z" stroke="#0000ff" stroke-width="1.85" fill="none" stroke-linejoin="miter"/>
<path d="M337.26 324.83L341.66 334.23L332.86 334.23Z" stroke="#0000ff" stroke-width="1.85" fill="none" stroke-linejoin="miter"/>
<path d="M342.11 320L346.51 329.4L337.71 329.4Z" stroke="#0000ff" stroke-width="1.85" fill="none" stroke-linejoin="miter"/>
<path d="M346.95 322.29L351.35 331.69L342.55 331.69Z" stroke="#0000ff" stroke-width="1.85" fill="none" stroke-linejoin="miter"/>
<path d="M351.79 325.68L356.19 335.08L347.39 335.08Z" stroke="#0000ff" stroke-width="1.85" fill="none" stroke-linejoin="miter"/>
<path d="M356.64 320.15L361.04 329.55L352.24 329.55Z" stroke="#0000ff" stroke-width="1.85" fill="none" stroke-linejoin="miter"/>
<path d="M361.48 320.15L365.88 329.55L357.08 329.55Z" stroke="#0000ff" stroke-width="1.85" fill="none" stroke-linejoin="miter"/>
<path d="M366.32 321.44L370.72 330.84L361.92 330.84Z" stroke="#0000ff" stroke-width="1.85" fill="none" stroke-linejoin="miter"/>
<path d="M371.17 318.05L375.57 327.45L366.77 327.45Z" stroke="#0000ff" stroke-width="1.85" fill="none" stroke-linejoin="miter"/>
<path d="M376.01 320.59L380.41 329.99L371.61 329.99Z" stroke="#0000ff" stroke-width="1.85" fill="none" stroke-linejoin="miter"/>
<path d="M380.85 329.48L385.25 338.88L376.45 338.88Z" stroke="#0000ff" stroke-width="1.85" fill="none" stroke-linejoin="miter"/>
<path d="M385.7 326.09L390.1 335.49L381.3 335.49Z" stroke="#0000ff" stroke-width="1.85" fill="none" stroke-linejoin="miter"/>
<path d="M390.54 327.79L394.94 337.19L386.14 337.19Z" stroke="#0000ff" stroke-width="1.85" fill="none" stroke-linejoin="miter"/>
<path d="M395.38 329.08L399.78 338.48L390.98 338.48Z" stroke="#0000ff" stroke-width="1.85" fill="none" stroke-linejoin="miter"/>
<path d="M400.23 329.08L404.63 338.48L395.83 338.48Z" stroke="#0000ff" stroke-width="1.85" fill="none" stroke-linejoin="miter"/>
<path d="M405.07 328.64L409.47 338.04L400.67 338.04Z" stroke="#0000ff" stroke-width="1.85" fill="none" stroke-linejoin="miter"/>
<path d="M409.91 330.33L414.31 339.73L405.51 339.73Z" stroke="#0000ff" stroke-width="1.85" fill="none" stroke-linejoin="miter"/>
<path d="M414.76 332.03L419.16 341.43L410.36 341.43Z" stroke="#0000ff" stroke-width="1.85" fill="none" stroke-linejoin="miter"/>
<path d="M419.6 336.3L424 345.7L415.2 345.7Z" stroke="#0000ff" stroke-width="1.85" fill="none" stroke-linejoin="miter"/>
<path d="M424.44 333.47L428.84 342.87L420.04 342.87Z" stroke="#0000ff" stroke-width="1.85" fill="none" stroke-linejoin="miter"/>
<path d="M429.29 332.03L433.69 341.43L424.89 341.43Z" stroke="#0000ff" stroke-width="1.85" fill="none" stroke-linejoin="miter"/>
<path d="M434.13 336.3L438.53 345.7L429.73 345.7Z" stroke="#0000ff" stroke-width="1.85" fill="none" stroke-linejoin="miter"/>
<path d="M438.97 334.17L443.37 343.57L434.57 343.57Z" stroke="#0000ff" stroke-width="1.85" fill="none" stroke-linejoin="miter"/>
<path d="M443.82 331.62L448.22 341.02L439.42 341.02Z" stroke="#0000ff" stroke-width="1.85" fill="none" stroke-linejoin="miter"/>
<path d="M448.66 333.76L453.06 343.16L444.26 343.16Z" stroke="#0000ff" stroke-width="1.85" fill="none" stroke-linejoin="miter"/>
<path d="M453.51 321.85L457.91 331.25L449.11 331.25Z" stroke="#0000ff" stroke-width="1.85" fill="none" stroke-linejoin="miter"/>
<path d="M458.35 322.45L462.75 331.85L453.95 331.85Z" stroke="#0000ff" stroke-width="1.85" fill="none" stroke-linejoin="miter"/>
<path d="M463.19 324.39L467.59 333.79L458.79 333.79Z" stroke="#0000ff" stroke-width="1.85" fill="none" stroke-linejoin="miter"/>
<path d="M468.04 323.99L472.44 333.39L463.64 333.39Z" stroke="#0000ff" stroke-width="1.85" fill="none" stroke-linejoin="miter"/>
<path d="M472.88 321.6L477.28 331L468.48 331Z" stroke="#0000ff" stroke-width="1.85" fill="none" stroke-linejoin="miter"/>
<path d="M477.72 323.99L482.12 333.39L473.32 333.39Z" stroke="#0000ff" stroke-width="1.85" fill="none" stroke-linejoin="miter"/>
<path d="M482.57 335.86L486.97 345.26L478.17 345.26Z" stroke="#0000ff" stroke-width="1.85" fill="none" stroke-linejoin="miter"/>
<path d="M487.41 333.76L491.81 343.16L483.01 343.16Z" stroke="#0000ff" stroke-width="1.85" fill="none" stroke-linejoin="miter"/>
<path d="M492.25 333.32L496.65 342.72L487.85 342.72Z" stroke="#0000ff" stroke-width="1.85" fill="none" stroke-linejoin="miter"/>
<path d="M497.1 332.91L501.5 342.31L492.7 342.31Z" stroke="#0000ff" stroke-width="1.85" fill="none" stroke-linejoin="miter"/>
<path d="M501.94 335.45L506.34 344.85L497.54 344.85Z" stroke="#0000ff" stroke-width="1.85" fill="none" stroke-linejoin="miter"/>
<path d="M506.78 330.77L511.18 340.17L502.38 340.17Z" stroke="#0000ff" stroke-width="1.85" fill="none" stroke-linejoin="miter"/>
<path d="M511.63 326.34L516.03 335.74L507.23 335.74Z" stroke="#0000ff" stroke-width="1.85" fill="none" stroke-linejoin="miter"/>
<path d="M516.47 325.84L520.87 335.24L512.07 335.24Z" stroke="#0000ff" stroke-width="1.85" fill="none" stroke-linejoin="miter"/>
<path d="M521.31 328.89L525.71 338.29L516.91 338.29Z" stroke="#0000ff" stroke-width="1.85" fill="none" stroke-linejoin="miter"/>
<path d="M526.16 326.94L530.56 336.34L521.76 336.34Z" stroke="#0000ff" stroke-width="1.85" fill="none" stroke-linejoin="miter"/>
<path d="M531 316.76L535.4 326.16L526.6 326.16Z" stroke="#0000ff" stroke-width="1.85" fill="none" stroke-linejoin="miter"/>
<text x="95.09" y="413.2" text-anchor="middle" font-size="14" fill="#1e1e1e" font-family="Liberation Sans, Arial, sans-serif" stroke="#000" stroke-width="0.45">10</text>
<text x="143.53" y="413.2" text-anchor="middle" font-size="14" fill="#1e1e1e" font-family="Liberation Sans, Arial, sans-serif" stroke="#000" stroke-width="0.45">20</text>
<text x="191.96" y="413.2" text-anchor="middle" font-size="14" fill="#1e1e1e" font-family="Liberation Sans, Arial, sans-serif" stroke="#000" stroke-width="0.45">30</text>
<text x="240.39" y="413.2" text-anchor="middle" font-size="14" fill="#1e1e1e" font-family="Liberation Sans, Arial, sans-serif" stroke="#000" stroke-width="0.45">40</text>
<text x="288.83" y="413.2" text-anchor="middle" font-size="14" fill="#1e1e1e" font-family="Liberation Sans, Arial, sans-serif" stroke="#000" stroke-width="0.45">50</text>
<text x="337.26" y="413.2" text-anchor="middle" font-size="14" fill="#1e1e1e" font-family="Liberation Sans, Arial, sans-serif" stroke="#000" stroke-width="0.45">60</text>
<text x="385.7" y="413.2" text-anchor="middle" font-size="14" fill="#1e1e1e" font-family="Liberation Sans, Arial, sans-serif" stroke="#000" stroke-width="0.45">70</text>
<text x="434.13" y="413.2" text-anchor="middle" font-size="14" fill="#1e1e1e" font-family="Liberation Sans, Arial, sans-serif" stroke="#000" stroke-width="0.45">80</text>
<text x="482.57" y="413.2" text-anchor="middle" font-size="14" fill="#1e1e1e" font-family="Liberation Sans, Arial, sans-serif" stroke="#000" stroke-width="0.45">90</text>
<text x="531" y="413.2" text-anchor="middle" font-size="14" fill="#1e1e1e" font-family="Liberation Sans, Arial, sans-serif" stroke="#000" stroke-width="0.45">100</text>
<text x="44.7" y="396.8" text-anchor="end" font-size="14" fill="#1e1e1e" font-family="Liberation Sans, Arial, sans-serif" stroke="#000" stroke-width="0.45">2</text>
<text x="44.7" y="333.97" text-anchor="end" font-size="14" fill="#1e1e1e" font-family="Liberation Sans, Arial, sans-serif" stroke="#000" stroke-width="0.45">4</text>
<text x="44.7" y="271.13" text-anchor="end" font-size="14" fill="#1e1e1e" font-family="Liberation Sans, Arial, sans-serif" stroke="#000" stroke-width="0.45">6</text>
<text x="44.7" y="208.3" text-anchor="end" font-size="14" fill="#1e1e1e" font-family="Liberation Sans, Arial, sans-serif" stroke="#000" stroke-width="0.45">8</text>
<text x="44.7" y="145.47" text-anchor="end" font-size="14" fill="#1e1e1e" font-family="Liberation Sans, Arial, sans-serif" stroke="#000" stroke-width="0.45">10</text>
<text x="44.7" y="82.63" text-anchor="end" font-size="14" fill="#1e1e1e" font-family="Liberation Sans, Arial, sans-serif" stroke="#000" stroke-width="0.45">12</text>
<text x="44.7" y="19.8" text-anchor="end" font-size="14" fill="#1e1e1e" font-family="Liberation Sans, Arial, sans-serif" stroke="#000" stroke-width="0.45">14</text>
<text x="291.5" y="434.6" text-anchor="middle" font-size="16" fill="#1e1e1e" font-family="Liberation Sans, Arial, sans-serif" stroke="#000" stroke-width="0.45">Time (s)</text>
<text transform="translate(19.5 203.5) rotate(-90)" text-anchor="middle" font-size="16" fill="#1e1e1e" font-family="Liberation Sans, Arial, sans-serif" stroke="#000" stroke-width="0.45">Average NEES</text>
<path d="M72.2 40.6H103.8" stroke="#000" stroke-width="1.8"/>
<text x="108" y="45.8" font-size="14.7" fill="#000" font-family="Liberation Sans, Arial, sans-serif" stroke="#000" stroke-width="0.45">CKF</text>
<path d="M144 40.6H175.8" stroke="#00ff00" stroke-width="1.8"/>
<path d="M155.3 40.6H164.3M159.8 36.1V45.1" stroke="#00ff00" stroke-width="1.6" fill="none"/>
<text x="180" y="45.8" font-size="14.7" fill="#000" font-family="Liberation Sans, Arial, sans-serif" stroke="#000" stroke-width="0.45">ICF</text>
<path d="M209.6 40.6H242.4" stroke="#ff0000" stroke-width="1.8"/>
<rect x="222.9" y="37.2" width="6.8" height="6.8" stroke="#ff0000" stroke-width="1.8" fill="none"/>
<text x="246" y="45.8" font-size="14.7" fill="#000" font-family="Liberation Sans, Arial, sans-serif" stroke="#000" stroke-width="0.45">DHIWCF</text>
<path d="M310.5 40.6H343.6" stroke="#0000ff" stroke-width="1.8"/>
<path d="M327 34.6L331.4 44L322.6 44Z" stroke="#0000ff" stroke-width="1.85" fill="none" stroke-linejoin="miter"/>
<text x="347.3" y="45.8" font-size="14.7" fill="#000" font-family="Liberation Sans, Arial, sans-serif" stroke="#000" stroke-width="0.45">HCMCI</text>
<rect x="153.2" y="161" width="321.8" height="110.9" fill="#fff"/>
<path d="M233.65 161V271.9M314.1 161V271.9M394.55 161V271.9M153.2 249.72H475M153.2 212.75H475M153.2 175.79H475" stroke="#e2e2e2" stroke-width="1" stroke-dasharray="9 5" fill="none"/>
<path d="M233.65 271.9v-3.5M233.65 161v3.5M314.1 271.9v-3.5M314.1 161v3.5M394.55 271.9v-3.5M394.55 161v3.5M153.2 249.72h3.5M475 249.72h-3.5M153.2 212.75h3.5M475 212.75h-3.5M153.2 175.79h3.5M475 175.79h-3.5" stroke="#1e1e1e" stroke-width="1" fill="none"/>
<rect x="153.2" y="161" width="321.8" height="110.9" fill="none" stroke="#1e1e1e" stroke-width="1.4"/>
<path d="M153.2 183.55H475" stroke="#000" stroke-width="2.8" stroke-dasharray="2.8 3.0" fill="none"/>
<path d="M153.2 241.22H475" stroke="#000" stroke-width="2.8" stroke-dasharray="2.8 3.0" fill="none"/>
<polyline fill="none" stroke="#000000" stroke-width="1.9" stroke-linejoin="round"  points="153.2,207.95 161.24,195.97 169.29,201.96 177.33,211.94 185.38,197.97 193.42,197.97 201.47,201.96 209.51,192.94 217.56,199.96 225.6,222.96 233.65,212.98 241.69,217.93 249.74,218.96 257.78,218.96 265.83,217.93 273.88,221.92 281.92,224.95 289.97,234.56 298.01,230.57 306.05,224.58 314.1,234.93 322.14,230.94 330.19,224.58 338.24,228.58 346.28,200.55 354.32,202.55 362.37,206.99 370.41,206.99 378.46,200.55 386.5,204.99 394.55,233.31 402.6,229.31 410.64,228.58 418.69,227.91 426.73,234.93 434.77,224.95 442.82,211.94 450.87,211.94 458.91,217.93 466.95,211.94 475,187.99"/>
<polyline fill="none" stroke="#ff0000" stroke-width="1.9" stroke-linejoin="round"  points="153.2,234.93 161.24,222.36 169.29,227.54 177.33,234.34 185.38,222.36 193.42,219.92 201.47,226.95 209.51,218.96 217.56,221.55 225.6,243.51 233.65,236.93 241.69,240.92 249.74,244.91 257.78,241.96 265.83,241.96 273.88,246.91 281.92,249.94 289.97,258.89 298.01,253.93 306.05,249.94 314.1,261.33 322.14,255.93 330.19,248.91 338.24,253.93 346.28,228.94 354.32,229.91 362.37,232.94 370.41,232.94 378.46,227.32 386.5,235.97 394.55,259.33 402.6,253.34 410.64,250.9 418.69,247.95 426.73,255.93 434.77,247.95 442.82,236.56 450.87,236.93 458.91,243.95 466.95,239.96 475,218.96"/>
<rect x="149.8" y="231.53" width="6.8" height="6.8" stroke="#ff0000" stroke-width="1.8" fill="none"/>
<rect x="157.84" y="218.96" width="6.8" height="6.8" stroke="#ff0000" stroke-width="1.8" fill="none"/>
<rect x="165.89" y="224.14" width="6.8" height="6.8" stroke="#ff0000" stroke-width="1.8" fill="none"/>
<rect x="173.93" y="230.94" width="6.8" height="6.8" stroke="#ff0000" stroke-width="1.8" fill="none"/>
<rect x="181.98" y="218.96" width="6.8" height="6.8" stroke="#ff0000" stroke-width="1.8" fill="none"/>
<rect x="190.02" y="216.52" width="6.8" height="6.8" stroke="#ff0000" stroke-width="1.8" fill="none"/>
<rect x="198.07" y="223.55" width="6.8" height="6.8" stroke="#ff0000" stroke-width="1.8" fill="none"/>
<rect x="206.11" y="215.56" width="6.8" height="6.8" stroke="#ff0000" stroke-width="1.8" fill="none"/>
<rect x="214.16" y="218.15" width="6.8" height="6.8" stroke="#ff0000" stroke-width="1.8" fill="none"/>
<rect x="222.2" y="240.11" width="6.8" height="6.8" stroke="#ff0000" stroke-width="1.8" fill="none"/>
<rect x="230.25" y="233.53" width="6.8" height="6.8" stroke="#ff0000" stroke-width="1.8" fill="none"/>
<rect x="238.29" y="237.52" width="6.8" height="6.8" stroke="#ff0000" stroke-width="1.8" fill="none"/>
<rect x="246.34" y="241.51" width="6.8" height="6.8" stroke="#ff0000" stroke-width="1.8" fill="none"/>
<rect x="254.38" y="238.56" width="6.8" height="6.8" stroke="#ff0000" stroke-width="1.8" fill="none"/>
<rect x="262.43" y="238.56" width="6.8" height="6.8" stroke="#ff0000" stroke-width="1.8" fill="none"/>
<rect x="270.48" y="243.51" width="6.8" height="6.8" stroke="#ff0000" stroke-width="1.8" fill="none"/>
<rect x="278.52" y="246.54" width="6.8" height="6.8" stroke="#ff0000" stroke-width="1.8" fill="none"/>
<rect x="286.57" y="255.49" width="6.8" height="6.8" stroke="#ff0000" stroke-width="1.8" fill="none"/>
<rect x="294.61" y="250.53" width="6.8" height="6.8" stroke="#ff0000" stroke-width="1.8" fill="none"/>
<rect x="302.65" y="246.54" width="6.8" height="6.8" stroke="#ff0000" stroke-width="1.8" fill="none"/>
<rect x="310.7" y="257.93" width="6.8" height="6.8" stroke="#ff0000" stroke-width="1.8" fill="none"/>
<rect x="318.75" y="252.53" width="6.8" height="6.8" stroke="#ff0000" stroke-width="1.8" fill="none"/>
<rect x="326.79" y="245.51" width="6.8" height="6.8" stroke="#ff0000" stroke-width="1.8" fill="none"/>
<rect x="334.84" y="250.53" width="6.8" height="6.8" stroke="#ff0000" stroke-width="1.8" fill="none"/>
<rect x="342.88" y="225.54" width="6.8" height="6.8" stroke="#ff0000" stroke-width="1.8" fill="none"/>
<rect x="350.93" y="226.51" width="6.8" height="6.8" stroke="#ff0000" stroke-width="1.8" fill="none"/>
<rect x="358.97" y="229.54" width="6.8" height="6.8" stroke="#ff0000" stroke-width="1.8" fill="none"/>
<rect x="367.01" y="229.54" width="6.8" height="6.8" stroke="#ff0000" stroke-width="1.8" fill="none"/>
<rect x="375.06" y="223.92" width="6.8" height="6.8" stroke="#ff0000" stroke-width="1.8" fill="none"/>
<rect x="383.11" y="232.57" width="6.8" height="6.8" stroke="#ff0000" stroke-width="1.8" fill="none"/>
<rect x="391.15" y="255.93" width="6.8" height="6.8" stroke="#ff0000" stroke-width="1.8" fill="none"/>
<rect x="399.2" y="249.94" width="6.8" height="6.8" stroke="#ff0000" stroke-width="1.8" fill="none"/>
<rect x="407.24" y="247.5" width="6.8" height="6.8" stroke="#ff0000" stroke-width="1.8" fill="none"/>
<rect x="415.29" y="244.55" width="6.8" height="6.8" stroke="#ff0000" stroke-width="1.8" fill="none"/>
<rect x="423.33" y="252.53" width="6.8" height="6.8" stroke="#ff0000" stroke-width="1.8" fill="none"/>
<rect x="431.38" y="244.55" width="6.8" height="6.8" stroke="#ff0000" stroke-width="1.8" fill="none"/>
<rect x="439.42" y="233.16" width="6.8" height="6.8" stroke="#ff0000" stroke-width="1.8" fill="none"/>
<rect x="447.47" y="233.53" width="6.8" height="6.8" stroke="#ff0000" stroke-width="1.8" fill="none"/>
<rect x="455.51" y="240.55" width="6.8" height="6.8" stroke="#ff0000" stroke-width="1.8" fill="none"/>
<rect x="463.56" y="236.56" width="6.8" height="6.8" stroke="#ff0000" stroke-width="1.8" fill="none"/>
<rect x="471.6" y="215.56" width="6.8" height="6.8" stroke="#ff0000" stroke-width="1.8" fill="none"/>
<polyline fill="none" stroke="#0000ff" stroke-width="1.9" stroke-linejoin="round"  points="153.2,217.85 161.24,206.47 169.29,211.87 177.33,219.85 185.38,206.84 193.42,206.84 201.47,209.87 209.51,201.89 217.56,207.87 225.6,228.8 233.65,220.81 241.69,224.8 249.74,227.84 257.78,227.84 265.83,226.8 273.88,230.79 281.92,234.79 289.97,244.84 298.01,238.19 306.05,234.79 314.1,244.84 322.14,239.81 330.19,233.82 338.24,238.85 346.28,210.83 354.32,212.24 362.37,216.82 370.41,215.86 378.46,210.24 386.5,215.86 394.55,243.81 402.6,238.85 410.64,237.82 418.69,236.86 426.73,242.84 434.77,231.83 442.82,221.4 450.87,220.22 458.91,227.39 466.95,222.81 475,198.85"/>
<path d="M153.2 211.85L157.6 221.25L148.8 221.25Z" stroke="#0000ff" stroke-width="1.85" fill="none" stroke-linejoin="miter"/>
<path d="M161.24 200.47L165.64 209.87L156.84 209.87Z" stroke="#0000ff" stroke-width="1.85" fill="none" stroke-linejoin="miter"/>
<path d="M169.29 205.87L173.69 215.27L164.89 215.27Z" stroke="#0000ff" stroke-width="1.85" fill="none" stroke-linejoin="miter"/>
<path d="M177.33 213.85L181.73 223.25L172.93 223.25Z" stroke="#0000ff" stroke-width="1.85" fill="none" stroke-linejoin="miter"/>
<path d="M185.38 200.84L189.78 210.24L180.98 210.24Z" stroke="#0000ff" stroke-width="1.85" fill="none" stroke-linejoin="miter"/>
<path d="M193.42 200.84L197.82 210.24L189.02 210.24Z" stroke="#0000ff" stroke-width="1.85" fill="none" stroke-linejoin="miter"/>
<path d="M201.47 203.87L205.87 213.27L197.07 213.27Z" stroke="#0000ff" stroke-width="1.85" fill="none" stroke-linejoin="miter"/>
<path d="M209.51 195.89L213.91 205.29L205.11 205.29Z" stroke="#0000ff" stroke-width="1.85" fill="none" stroke-linejoin="miter"/>
<path d="M217.56 201.87L221.96 211.27L213.16 211.27Z" stroke="#0000ff" stroke-width="1.85" fill="none" stroke-linejoin="miter"/>
<path d="M225.6 222.8L230 232.2L221.2 232.2Z" stroke="#0000ff" stroke-width="1.85" fill="none" stroke-linejoin="miter"/>
<path d="M233.65 214.81L238.05 224.21L229.25 224.21Z" stroke="#0000ff" stroke-width="1.85" fill="none" stroke-linejoin="miter"/>
<path d="M241.69 218.8L246.09 228.2L237.29 228.2Z" stroke="#0000ff" stroke-width="1.85" fill="none" stroke-linejoin="miter"/>
<path d="M249.74 221.84L254.14 231.24L245.34 231.24Z" stroke="#0000ff" stroke-width="1.85" fill="none" stroke-linejoin="miter"/>
<path d="M257.78 221.84L262.18 231.24L253.38 231.24Z" stroke="#0000ff" stroke-width="1.85" fill="none" stroke-linejoin="miter"/>
<path d="M265.83 220.8L270.23 230.2L261.43 230.2Z" stroke="#0000ff" stroke-width="1.85" fill="none" stroke-linejoin="miter"/>
<path d="M273.88 224.79L278.27 234.19L269.48 234.19Z" stroke="#0000ff" stroke-width="1.85" fill="none" stroke-linejoin="miter"/>
<path d="M281.92 228.79L286.32 238.19L277.52 238.19Z" stroke="#0000ff" stroke-width="1.85" fill="none" stroke-linejoin="miter"/>
<path d="M289.97 238.84L294.37 248.24L285.57 248.24Z" stroke="#0000ff" stroke-width="1.85" fill="none" stroke-linejoin="miter"/>
<path d="M298.01 232.19L302.41 241.59L293.61 241.59Z" stroke="#0000ff" stroke-width="1.85" fill="none" stroke-linejoin="miter"/>
<path d="M306.05 228.79L310.45 238.19L301.65 238.19Z" stroke="#0000ff" stroke-width="1.85" fill="none" stroke-linejoin="miter"/>
<path d="M314.1 238.84L318.5 248.24L309.7 248.24Z" stroke="#0000ff" stroke-width="1.85" fill="none" stroke-linejoin="miter"/>
<path d="M322.14 233.81L326.54 243.21L317.75 243.21Z" stroke="#0000ff" stroke-width="1.85" fill="none" stroke-linejoin="miter"/>
<path d="M330.19 227.82L334.59 237.22L325.79 237.22Z" stroke="#0000ff" stroke-width="1.85" fill="none" stroke-linejoin="miter"/>
<path d="M338.24 232.85L342.63 242.25L333.84 242.25Z" stroke="#0000ff" stroke-width="1.85" fill="none" stroke-linejoin="miter"/>
<path d="M346.28 204.83L350.68 214.23L341.88 214.23Z" stroke="#0000ff" stroke-width="1.85" fill="none" stroke-linejoin="miter"/>
<path d="M354.32 206.24L358.72 215.64L349.93 215.64Z" stroke="#0000ff" stroke-width="1.85" fill="none" stroke-linejoin="miter"/>
<path d="M362.37 210.82L366.77 220.22L357.97 220.22Z" stroke="#0000ff" stroke-width="1.85" fill="none" stroke-linejoin="miter"/>
<path d="M370.41 209.86L374.81 219.26L366.01 219.26Z" stroke="#0000ff" stroke-width="1.85" fill="none" stroke-linejoin="miter"/>
<path d="M378.46 204.24L382.86 213.64L374.06 213.64Z" stroke="#0000ff" stroke-width="1.85" fill="none" stroke-linejoin="miter"/>
<path d="M386.5 209.86L390.9 219.26L382.11 219.26Z" stroke="#0000ff" stroke-width="1.85" fill="none" stroke-linejoin="miter"/>
<path d="M394.55 237.81L398.95 247.21L390.15 247.21Z" stroke="#0000ff" stroke-width="1.85" fill="none" stroke-linejoin="miter"/>
<path d="M402.6 232.85L407 242.25L398.2 242.25Z" stroke="#0000ff" stroke-width="1.85" fill="none" stroke-linejoin="miter"/>
<path d="M410.64 231.82L415.04 241.22L406.24 241.22Z" stroke="#0000ff" stroke-width="1.85" fill="none" stroke-linejoin="miter"/>
<path d="M418.69 230.86L423.08 240.26L414.29 240.26Z" stroke="#0000ff" stroke-width="1.85" fill="none" stroke-linejoin="miter"/>
<path d="M426.73 236.84L431.13 246.24L422.33 246.24Z" stroke="#0000ff" stroke-width="1.85" fill="none" stroke-linejoin="miter"/>
<path d="M434.77 225.83L439.17 235.23L430.38 235.23Z" stroke="#0000ff" stroke-width="1.85" fill="none" stroke-linejoin="miter"/>
<path d="M442.82 215.4L447.22 224.8L438.42 224.8Z" stroke="#0000ff" stroke-width="1.85" fill="none" stroke-linejoin="miter"/>
<path d="M450.87 214.22L455.26 223.62L446.47 223.62Z" stroke="#0000ff" stroke-width="1.85" fill="none" stroke-linejoin="miter"/>
<path d="M458.91 221.39L463.31 230.79L454.51 230.79Z" stroke="#0000ff" stroke-width="1.85" fill="none" stroke-linejoin="miter"/>
<path d="M466.95 216.81L471.35 226.21L462.56 226.21Z" stroke="#0000ff" stroke-width="1.85" fill="none" stroke-linejoin="miter"/>
<path d="M475 192.85L479.4 202.25L470.6 202.25Z" stroke="#0000ff" stroke-width="1.85" fill="none" stroke-linejoin="miter"/>
<text x="153.2" y="293.4" text-anchor="middle" font-size="14" fill="#1e1e1e" font-family="Liberation Sans, Arial, sans-serif" stroke="#000" stroke-width="0.45">60</text>
<text x="233.65" y="293.4" text-anchor="middle" font-size="14" fill="#1e1e1e" font-family="Liberation Sans, Arial, sans-serif" stroke="#000" stroke-width="0.45">70</text>
<text x="314.1" y="293.4" text-anchor="middle" font-size="14" fill="#1e1e1e" font-family="Liberation Sans, Arial, sans-serif" stroke="#000" stroke-width="0.45">80</text>
<text x="394.55" y="293.4" text-anchor="middle" font-size="14" fill="#1e1e1e" font-family="Liberation Sans, Arial, sans-serif" stroke="#000" stroke-width="0.45">90</text>
<text x="475" y="293.4" text-anchor="middle" font-size="14" fill="#1e1e1e" font-family="Liberation Sans, Arial, sans-serif" stroke="#000" stroke-width="0.45">100</text>
<text x="146.4" y="255.32" text-anchor="end" font-size="14" fill="#1e1e1e" font-family="Liberation Sans, Arial, sans-serif" stroke="#000" stroke-width="0.45">3.5</text>
<text x="146.4" y="218.35" text-anchor="end" font-size="14" fill="#1e1e1e" font-family="Liberation Sans, Arial, sans-serif" stroke="#000" stroke-width="0.45">4</text>
<text x="146.4" y="181.39" text-anchor="end" font-size="14" fill="#1e1e1e" font-family="Liberation Sans, Arial, sans-serif" stroke="#000" stroke-width="0.45">4.5</text>
<path d="M413.8 275.7L442.92 318.88" stroke="#000" stroke-width="1.5" fill="none"/>
<path d="M448.4 327L434.82 318.31L442.92 318.88L445.43 311.15Z" fill="#000"/>
</svg></body></html>
